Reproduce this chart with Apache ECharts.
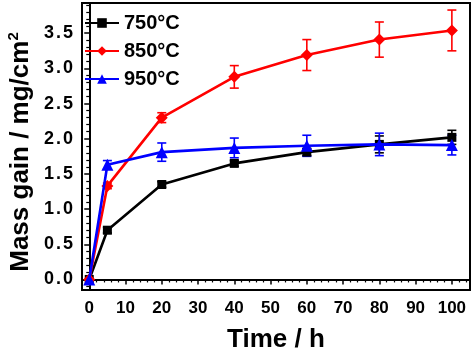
<!DOCTYPE html>
<html>
<head>
<meta charset="utf-8">
<script src="https://cdn.jsdelivr.net/npm/echarts@6/dist/echarts.min.js"></script>
<style>html,body{margin:0;padding:0;background:#fff}#c{width:474px;height:348px}</style>
</head>
<body>
<div id="c"></div>
<script>
const times = [0, 5, 20, 40, 60, 80, 100];
const seriesNames = ['750°C', '850°C', '950°C'];
const gain750 = [0, 0.70, 1.35, 1.65, 1.81, 1.92, 2.02];
const gain850 = [0, 1.33, 2.30, 2.88, 3.19, 3.41, 3.54];
const gain950 = [0, 1.63, 1.81, 1.87, 1.90, 1.92, 1.91];
const err750 = [0, 0.04, 0.04, 0.04, 0.05, 0.12, 0.10];
const err850 = [0, 0.04, 0.07, 0.16, 0.22, 0.25, 0.29];
const err950 = [0, 0.06, 0.13, 0.14, 0.15, 0.16, 0.14];
const xTicks = [0, 10, 20, 30, 40, 50, 60, 70, 80, 90, 100];
const yTicks = [0, 0.5, 1.0, 1.5, 2.0, 2.5, 3.0, 3.5];

const colors = ['#000000', '#ff0000', '#0000ff'];
const symbols = ['rect', 'diamond', 'triangle'];
const symSizes = [9, 12, 12];
const gains = [gain750, gain850, gain950];
const errs = [err750, err850, err950];

const X_MIN = -2, X_MAX = 105, Y_MIN = -0.15, Y_MAX = 3.93;
const xMinor = [], yMinor = [];
for (let i = 0; i <= 104; i += 2) if (i % 10 !== 0) xMinor.push(i);
for (let i = -1; i <= 39; i++) if (i % 5 !== 0) yMinor.push(i / 10);

const font = 'Liberation Sans, Arial, sans-serif';

const series = [];
gains.forEach((g, k) => {
  series.push({
    type: 'custom',
    name: 'err' + k,
    z: 1,
    silent: true,
    data: times.map((t, i) => [t, g[i], errs[k][i]]),
    encode: { x: 0, y: 1 },
    renderItem: function (params, api) {
      const x = api.value(0), y = api.value(1), e = api.value(2);
      if (!e) return null;
      const hi = api.coord([x, y + e]), lo = api.coord([x, y - e]);
      const w = 4.5;
      const st = { stroke: colors[k], lineWidth: 1.6 };
      return {
        type: 'group', children: [
          { type: 'line', shape: { x1: hi[0], y1: hi[1], x2: lo[0], y2: lo[1] }, style: st },
          { type: 'line', shape: { x1: hi[0] - w, y1: hi[1], x2: hi[0] + w, y2: hi[1] }, style: st },
          { type: 'line', shape: { x1: lo[0] - w, y1: lo[1], x2: lo[0] + w, y2: lo[1] }, style: st }
        ]
      };
    }
  });
});
gains.forEach((g, k) => {
  series.push({
    type: 'line',
    name: seriesNames[k],
    z: 3 + k,
    data: times.map((t, i) => [t, g[i]]),
    symbol: symbols[k],
    symbolSize: symSizes[k],
    showAllSymbol: true,
    lineStyle: { color: colors[k], width: 2.6 },
    itemStyle: { color: colors[k] },
    emphasis: { disabled: true },
    animation: false
  });
});

const chart = echarts.init(document.getElementById('c'), null, { renderer: 'canvas' });
chart.setOption({
  animation: false,
  backgroundColor: '#fff',
  grid: { left: 82, right: 4, top: 3, bottom: 58, containLabel: false, outerBoundsMode: 'none', show: true, borderColor: '#000', borderWidth: 2, backgroundColor: 'transparent' },
  legend: {
    data: seriesNames,
    orient: 'vertical',
    left: 84, top: 13, padding: 0,
    itemWidth: 34, itemHeight: 12, itemGap: 8,
    textStyle: { fontFamily: font, fontWeight: 'bold', fontSize: 20, color: '#000', lineHeight: 20 },
    selectedMode: false
  },
  xAxis: [{
    type: 'value', min: X_MIN, max: X_MAX,
    name: 'Time / h', nameLocation: 'middle', nameGap: 37,
    nameTextStyle: { fontFamily: font, fontWeight: 'bold', fontSize: 26, color: '#000' },
    axisLine: { show: true, lineStyle: { color: '#000', width: 2 } },
    axisTick: { show: true, length: 5, lineStyle: { color: '#000', width: 1.5 }, customValues: xTicks },
    axisLabel: { customValues: xTicks, margin: 10, fontFamily: font, fontWeight: 'bold', fontSize: 17, color: '#000' },
    splitLine: { show: false }
  }, {
    type: 'value', min: X_MIN, max: X_MAX, position: 'bottom',
    axisLine: { show: false },
    axisTick: { show: true, length: 3, lineStyle: { color: '#000', width: 1.2 }, customValues: xMinor },
    axisLabel: { show: false, customValues: xMinor },
    splitLine: { show: false }
  }],
  yAxis: [{
    type: 'value', min: Y_MIN, max: Y_MAX,
    axisLine: { show: true, lineStyle: { color: '#000', width: 2 } },
    axisTick: { show: true, length: 5, lineStyle: { color: '#000', width: 1.5 }, customValues: yTicks },
    axisLabel: {
      customValues: yTicks, margin: 9, fontFamily: font, fontWeight: 'bold', fontSize: 17, color: '#000',
      formatter: v => { const s = v.toFixed(1).split('.'); return '{d|' + s[0] + '}{p|.}{d|' + s[1] + '}'; },
      rich: {
        d: { fontFamily: font, fontWeight: 'bold', fontSize: 18, color: '#000' },
        p: { fontFamily: font, fontWeight: 'bold', fontSize: 18, color: '#000', padding: [0, 2, 0, 2] }
      }
    },
    splitLine: { show: false }
  }, {
    type: 'value', min: Y_MIN, max: Y_MAX, position: 'left',
    axisLine: { show: false },
    axisTick: { show: true, length: 3, lineStyle: { color: '#000', width: 1.2 }, customValues: yMinor },
    axisLabel: { show: false, customValues: yMinor },
    splitLine: { show: false }
  }],
  graphic: [{
    type: 'text',
    x: 21, y: 152,
    rotation: Math.PI / 2,
    style: {
      text: '{a|Mass gain / mg/cm}{s|2}',
      align: 'center', verticalAlign: 'middle',
      rich: {
        a: { fontFamily: font, fontWeight: 'bold', fontSize: 26, fill: '#000' },
        s: { fontFamily: font, fontWeight: 'bold', fontSize: 15, fill: '#000', verticalAlign: 'top', padding: [0, 0, 14, 0] }
      }
    }
  }],
  series: series
});
</script>
</body>
</html>
